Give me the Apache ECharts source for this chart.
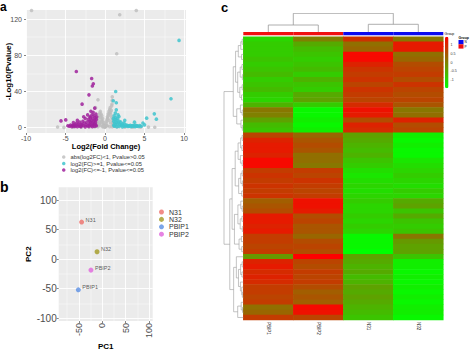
<!DOCTYPE html>
<html><head><meta charset="utf-8">
<script src="https://cdn.jsdelivr.net/npm/echarts@6/dist/echarts.min.js"></script>
<style>html,body{margin:0;padding:0;background:#fff}#c{width:474px;height:351px}</style>
</head><body><div id="c"></div>
<script>
// ---------- Panel a: volcano ----------
const volcanoXTicks = [-10, -5, 0, 5, 10];
const volcanoXMinor = [-7.5, -2.5, 2.5, 7.5];
const volcanoYTicks = [0, 40, 80, 120];
const volcanoYMinor = [20, 60, 100];
const volcanoLegend = ['abs(log2FC)<1, Pvalue>0.05', 'log2(FC)>=1, Pvalue<=0.05', 'log2(FC)<=-1, Pvalue<=0.05'];
const volcanoNonSig = [[-1.0,2],[-0.95,5],[-0.9,8],[-0.85,3],[-0.8,11],[-0.75,14],[-0.7,6],[-0.65,16],[-0.6,18],[-0.55,12],[-0.5,15],[-0.45,9],[-0.4,13],[-0.35,7],[-0.3,10],[-0.25,4],[-0.2,6],[-0.15,3],[-0.1,2],[-0.05,1],
 [0.05,1],[0.1,3],[0.15,5],[0.2,7],[0.25,9],[0.3,12],[0.35,10],[0.4,15],[0.45,13],[0.5,18],[0.55,16],[0.6,20],[0.65,22],[0.7,17],[0.75,14],[0.8,19],[0.85,11],[0.9,8],[0.95,5],[1.0,3],
 [0.88,26],[0.9,30],[0.92,34],[0.85,24],[-0.9,1],[-0.6,2],[-0.3,1],[0,0.5],[0.3,2],[0.6,1],[0.9,1],[-0.7,4],[0.7,5],[-0.5,6],[0.5,8],[-0.2,1],[0.2,2],
 [-0.89,30.7],[-1.2,22],[1.1,1.5],[-1.3,0.8],[1.5,0.6],[-2,0.5],[2.5,0.4],[-3,0.3],[3.5,0.5],[-4,0.4],[4.5,0.3],[-5.2,0.2],[5.5,0.5],[-6,0.6],[6.3,0.4],
 [-9.3,129.5],[3.96,129.5],[1.86,124.8],[1.48,81.6]];
const volcanoUp = [[9.37,96.4],[8.35,31.8],[1.35,39.9],[1.05,29.6],[1.43,27.4],[1.43,19.6],[6.24,15.2],[6.5,9.3],[5.27,10.4],[1.77,12.2],[3.73,6],
 [1.05,10],[1.1,7],[1.15,13],[1.2,5],[1.25,9],[1.3,3],[1.35,11],[1.4,6],[1.5,8],[1.55,4],[1.6,10],[1.7,5],[1.8,7],[1.9,3],[2.0,6],[2.1,2.5],[2.2,4],[2.3,2],[2.4,5],[2.5,1.5],[2.6,3],[2.7,1.8],[2.8,2.4],[2.9,1.2],[3.0,2],[3.1,1.6],[3.2,2.6],[3.3,1],[3.4,1.9],[3.5,2.3],[3.6,1.4],[3.7,2.1],[3.8,1.1],[3.9,2.5],[4.0,1.6],[4.1,1.9],[4.25,1.2],[4.4,2.2],[4.6,1.5],[1.2,1.5],[1.5,1],[1.8,1.3],[2.2,0.8],[1.1,2.5],[1.65,14],[1.3,16],[2.5,8],[4.8,5],[5.0,3]];
const volcanoDown = [[-3.63,62],[-1.69,54.3],[-1.48,48.4],[-1.6,46],[-2.03,36.2],[-2.9,25.9],[-1.3,21.5],[-1.79,18],[-5.57,7.4],[-4.97,8.5],
 [-1.05,12],[-1.1,9],[-1.15,15],[-1.2,6],[-1.25,11],[-1.3,8],[-1.35,4],[-1.4,13],[-1.45,7],[-1.5,3],[-1.55,10],[-1.6,5],[-1.65,14],[-1.7,2],[-1.75,8],[-1.8,6],[-1.85,11],[-1.9,3],[-1.95,7],[-2.0,4],[-2.1,9],[-2.2,2],[-2.3,6],[-2.4,3],[-2.5,10],[-2.6,5],[-2.7,2],[-2.8,7],[-2.9,3],[-3.0,4],[-3.1,1.5],[-3.2,6],[-3.3,2],[-3.4,3.5],[-3.5,1],[-3.6,5],[-3.7,2.5],[-3.8,1.2],[-3.9,3],[-4.0,1.8],[-4.1,2.2],[-4.2,1],[-4.35,2.8],[-4.5,1.5],[-4.7,2],[-1.1,2],[-1.3,1.5],[-1.6,1],[-2.05,1.2],[-2.5,0.8],[-3.05,0.9],[-1.2,3.5],[-1.9,12],[-2.2,14],[-1.5,17],[-3.5,8],[-2.7,12],[-4.0,5.5]];

// ---------- Panel b: PCA ----------
const pcaSamples = ['N31', 'N32', 'PBIP1', 'PBIP2'];
const pcaPC1 = [-44, -11, -51, -24];
const pcaPC2 = [63, 12.6, -52, -18.5];
const pcaColors = ['#EE6F6A', '#A39A22', '#5A8FE3', '#E064DC'];
const pcaXTicks = [-50, 0, 50, 100];
const pcaXMinor = [-75, -25, 25, 75];
const pcaYTicks = [-100, -50, 0, 50, 100];
const pcaYMinor = [-75, -25, 25, 75];

// ---------- Panel c: heatmap ----------
const heatSamples = ['PBIP1', 'PBIP2', 'N31', 'N32'];
const heatGroups = ['P', 'P', 'N', 'N'];
const heatPBIP1 = [-1.0,-0.9,-0.9,-0.9,-0.8,-0.9,-0.8,-0.7,-0.9,-0.8,-0.7,-0.9,-1.0,-0.6,0.1,0.0,-0.4,-0.7,-0.8,
 0.7,1.1,1.2,1.2,1.1,1.4,1.4,0.8,0.9,0.8,0.9,0.8,0.9,0.4,0.5,0.6,1.2,1.2,1.1,1.2,0.8,0.8,0.7,0.8,-0.3,1.1,1.2,1.0,1.1,1.0,0.8,0.8,0.7,0.8,0.2,0.3,0.8];
const heatPBIP2 = [0.0,-0.5,-0.7,-0.8,-0.9,-0.8,-0.7,-0.9,-0.6,-0.8,-0.9,-0.5,-0.4,-0.9,-1.4,-1.4,-1.3,-1.4,-1.3,
 0.3,0.5,0.6,0.5,0.2,0.2,0.1,0.8,0.7,0.9,0.8,0.7,0.8,1.3,1.3,1.2,0.6,0.7,0.5,0.5,0.3,0.6,0.7,0.6,1.5,0.7,0.6,0.8,0.7,0.8,0.6,0.4,0.5,0.4,1.4,1.3,0.7];
const heatN31 = [0.9,0.2,0.3,1.4,1.4,1.1,0.9,0.8,0.9,0.7,0.9,0.8,0.7,1.0,1.3,1.2,0.6,1.1,1.0,
 -0.4,-0.5,-0.6,-0.7,-0.6,-0.8,-0.9,-1.1,-1.2,-1.1,-1.0,-1.1,-1.0,-0.9,-1.0,-1.0,-0.9,-1.0,-0.9,-1.0,-1.4,-1.4,-1.4,-1.5,-0.4,-0.5,-0.6,-0.5,-0.7,-0.6,-0.4,-0.5,-0.4,-0.5,-0.6,-0.7,-0.8];
const heatN32 = [0.1,1.2,1.2,0.2,0.3,0.6,0.7,0.8,0.6,0.9,0.7,0.6,0.7,0.5,0.1,0.2,1.1,0.6,0.7,
 -1.3,-1.4,-1.3,-1.4,-1.4,-1.2,-1.1,-1.0,-0.9,-1.0,-1.1,-0.9,-1.0,-0.5,-0.4,-0.8,-0.5,-0.8,-0.9,-0.8,0.1,-0.3,-0.4,-0.4,-0.8,-1.3,-1.3,-1.4,-1.3,-1.4,-1.3,-1.4,-1.3,-1.4,-1.3,-1.3,-1.4];
// dendrograms: [mergeHeight, left, right]; leaves are indices
const colTree = [18.7, [7, 0, 1], [7.7, 2, 3]];
const rowTreeTop = [5.2,
  [4.0,
    [2.6, [1.3, [0.6, 0, 1], 2], [0.9, 3, 4]],
    [2.9, [1.6, [0.7, 5, 6], [0.5, 7, 8]], [1.8, [0.6, 9, 10], [0.9, 11, 12]]]],
  [3.4, [1.5, 13, [0.6, 14, 15]], [1.2, 16, [0.5, 17, 18]]]];
const rowTreeBottom = [7.0,
  [5.8,
    [4.2, [2.7, [1.4, [0.6, 19, 20], [0.7, 21, 22]], [1.5, 23, [0.6, 24, 25]]], [2.4, [1.3, [0.6, 26, 27], [0.5, 28, 29]], [0.8, 30, 31]]],
    [4.6, [2.8, [1.3, 32, [0.6, 33, 34]], [1.6, [0.7, 35, 36], [0.5, 37, 38]]], [2.2, [1.0, 39, 40], [0.8, 41, 42]]]],
  [5.0, [3.6, 43, [2.5, [1.4, [0.6, 44, 45], [0.7, 46, 47]], [1.5, 48, [0.8, 49, [0.5, 50, 51]]]]], [2.9, [1.1, 52, [0.4, 53, 54]], 55]]];
const rowTree = [10, rowTreeTop, rowTreeBottom];
const colorbarTicks = [1, 0.5, 0, -0.5, -1];
const colorMin = -1.5, colorMax = 1.5;

// ---------- build ----------
const heatCols = [heatPBIP1, heatPBIP2, heatN31, heatN32];
const nRows = heatPBIP1.length;
const heatData = [];
for (let r = 0; r < nRows; r++) for (let c = 0; c < 4; c++) heatData.push([c, r, heatCols[c][r]]);

function walk(node, out) {
  if (typeof node === 'number') return { p: node + 0.5, h: 0 };
  const A = walk(node[1], out), B = walk(node[2], out);
  out.push([A, B, node[0]]);
  return { p: (A.p + B.p) / 2, h: node[0] };
}
const colSeg = []; walk(colTree, colSeg);
const rowSeg = []; walk(rowTree, rowSeg);
const colLines = colSeg.map(([A, B, h]) => ({ coords: [[A.p, A.h], [A.p, h], [B.p, h], [B.p, B.h]] }));
const rowLines = rowSeg.map(([A, B, h]) => ({ coords: [[A.h, A.p], [h, A.p], [h, B.p], [B.h, B.p]] }));

const FONT = '"Liberation Sans", Arial, sans-serif';
const gridLine = (w) => ({ show: true, lineStyle: { color: '#FFFFFF', width: w } });
function mainAxis(gi, min, max, ticks, extra) {
  return Object.assign({
    type: 'value', gridIndex: gi, min, max,
    axisLine: { show: false, onZero: false },
    axisTick: { show: true, customValues: ticks, length: 2, lineStyle: { color: '#333', width: 0.6 } },
    axisLabel: { customValues: ticks, color: '#4D4D4D', fontSize: 7, margin: 2, hideOverlap: false },
    splitLine: gridLine(0.9)
  }, extra || {});
}
function minorAxis(gi, min, max, ticks) {
  return {
    type: 'value', gridIndex: gi, min, max,
    axisLine: { show: false, onZero: false },
    axisTick: { show: false, customValues: ticks },
    axisLabel: { show: false, customValues: ticks },
    splitLine: gridLine(0.45)
  };
}
const hidden = (o) => Object.assign({ show: false }, o);

const series = [
  { name: volcanoLegend[0], type: 'scatter', xAxisIndex: 0, yAxisIndex: 0, data: volcanoNonSig, symbolSize: 3.6, itemStyle: { color: '#BDBDBD' } },
  { name: volcanoLegend[1], type: 'scatter', xAxisIndex: 0, yAxisIndex: 0, data: volcanoUp, symbolSize: 3.6, itemStyle: { color: '#3FC4CE', opacity: 0.85 } },
  { name: volcanoLegend[2], type: 'scatter', xAxisIndex: 0, yAxisIndex: 0, data: volcanoDown, symbolSize: 3.6, itemStyle: { color: '#A0229C', opacity: 0.85 } }
];
pcaSamples.forEach((s, i) => series.push({
  name: s, type: 'scatter', xAxisIndex: 2, yAxisIndex: 2, symbolSize: 5,
  data: [[pcaPC1[i], pcaPC2[i]]], itemStyle: { color: pcaColors[i] },
  label: { show: true, position: 'right', distance: 1.5, offset: [0, -2.5], formatter: s, fontSize: 5.5, color: '#333' }
}));
series.push({ type: 'heatmap', xAxisIndex: 4, yAxisIndex: 4, data: heatData, itemStyle: { borderWidth: 0 }, emphasis: { disabled: true } });
const heatSeriesIndex = series.length - 1;
series.push({ type: 'bar', xAxisIndex: 5, yAxisIndex: 5, barWidth: '100%', silent: true,
  data: heatGroups.map(g => ({ value: 1, itemStyle: { color: g === 'N' ? '#0A0AF0' : '#F01010' } })) });
series.push({ type: 'lines', coordinateSystem: 'cartesian2d', xAxisIndex: 6, yAxisIndex: 6, polyline: true, silent: true,
  data: colLines, lineStyle: { color: '#9a9a9a', width: 0.8, opacity: 1 } });
series.push({ type: 'lines', coordinateSystem: 'cartesian2d', xAxisIndex: 7, yAxisIndex: 7, polyline: true, silent: true,
  data: rowLines, lineStyle: { color: '#9a9a9a', width: 0.6, opacity: 1 } });

const cbTop = 36.7, cbH = 51.5, cbX = 445;
const graphics = [
  { type: 'text', left: 0, top: 1, style: { text: 'a', font: 'bold 12px ' + FONT, fill: '#000' } },
  { type: 'text', left: 0, top: 180, style: { text: 'b', font: 'bold 14px ' + FONT, fill: '#000' } },
  { type: 'text', left: 221, top: 1, style: { text: 'c', font: 'bold 13px ' + FONT, fill: '#000' } },
  { type: 'text', x: 8, y: 71.5, rotation: Math.PI / 2,
    style: { text: '-Log10(Pvalue)', font: 'bold 8px ' + FONT, fill: '#000', align: 'center', verticalAlign: 'middle' } },
  { type: 'text', left: 444.5, top: 31.8, style: { text: 'Group', font: '3.5px ' + FONT, fill: '#000' } },
  { type: 'text', left: 458.5, top: 36.3, style: { text: 'Group', font: 'bold 3.5px ' + FONT, fill: '#000' } },
  { type: 'rect', shape: { x: 458.5, y: 40, width: 5, height: 4.3 }, style: { fill: '#0A0AF0' } },
  { type: 'rect', shape: { x: 458.5, y: 44.3, width: 5, height: 4.3 }, style: { fill: '#F01010' } },
  { type: 'text', left: 464.5, top: 40.6, style: { text: 'N', font: '3.2px ' + FONT, fill: '#000' } },
  { type: 'text', left: 464.5, top: 44.9, style: { text: 'P', font: '3.2px ' + FONT, fill: '#000' } }
];
colorbarTicks.forEach(v => graphics.push({ type: 'text', left: cbX + 5.5,
  top: cbTop + (colorMax - v) / (colorMax - colorMin) * cbH - 1.8,
  style: { text: String(v), font: '3.6px ' + FONT, fill: '#333' } }));

const option = {
  animation: false,
  textStyle: { fontFamily: FONT },
  grid: [
    { left: 26, top: 10, width: 160, height: 123, show: true, backgroundColor: '#EBEBEB', borderWidth: 0 },
    { left: 58.7, top: 187.3, width: 94, height: 138.7, show: true, backgroundColor: '#EBEBEB', borderWidth: 0 },
    { left: 243.3, top: 36.7, width: 200, height: 283.3 },
    { left: 243.3, top: 32, width: 200, height: 3.3 },
    { left: 243.3, top: 13.3, width: 200, height: 18.7 },
    { left: 224, top: 36.7, width: 19.3, height: 283.3 },
    { left: 26, top: 10, width: 160, height: 123 }
  ],
  xAxis: [
    mainAxis(0, -10, 10.25, volcanoXTicks, { name: 'Log2(Fold Change)', nameLocation: 'middle', nameGap: 9,
      nameTextStyle: { fontWeight: 'bold', fontSize: 7.5, color: '#000', verticalAlign: 'top' } }),
    minorAxis(0, -10, 10.25, volcanoXMinor),
    mainAxis(1, -93, 108, pcaXTicks, { name: 'PC1', nameLocation: 'middle', nameGap: 17,
      nameTextStyle: { fontWeight: 'bold', fontSize: 8, color: '#000', verticalAlign: 'top' },
      axisLabel: { customValues: pcaXTicks, color: '#4D4D4D', fontSize: 9, margin: 2, rotate: 90 } }),
    minorAxis(1, -93, 108, pcaXMinor),
    { type: 'category', gridIndex: 2, data: heatSamples, axisLine: { show: false }, axisTick: { show: false },
      axisLabel: { rotate: -90, fontSize: 4.5, color: '#111', margin: 2 }, splitLine: { show: false } },
    hidden({ type: 'category', gridIndex: 3, data: heatSamples }),
    hidden({ type: 'value', gridIndex: 4, min: 0, max: 4 }),
    hidden({ type: 'value', gridIndex: 5, min: 0, max: 10, inverse: true }),
    hidden({ type: 'value', gridIndex: 6, min: -10, max: 10.25 })
  ],
  yAxis: [
    mainAxis(0, -6, 130, volcanoYTicks, { axisLabel: { show: false, customValues: volcanoYTicks } }),
    minorAxis(0, -6, 130, volcanoYMinor),
    mainAxis(1, -105, 122, pcaYTicks, { name: 'PC2', nameLocation: 'middle', nameGap: 24,
      nameTextStyle: { fontWeight: 'bold', fontSize: 8, color: '#000' },
      axisLabel: { customValues: pcaYTicks, color: '#4D4D4D', fontSize: 10, margin: 2 } }),
    minorAxis(1, -105, 122, pcaYMinor),
    hidden({ type: 'category', gridIndex: 2, inverse: true, data: heatPBIP1.map((_, i) => 'g' + i) }),
    hidden({ type: 'value', gridIndex: 3, min: 0, max: 1 }),
    hidden({ type: 'value', gridIndex: 4, min: 0, max: 18.7 }),
    hidden({ type: 'value', gridIndex: 5, min: 0, max: nRows, inverse: true }),
    { type: 'value', gridIndex: 6, min: -6, max: 130, position: 'left',
      axisLine: { show: false, onZero: false }, axisTick: { show: false, customValues: volcanoYTicks },
      axisLabel: { customValues: volcanoYTicks, color: '#4D4D4D', fontSize: 7, margin: 4 }, splitLine: { show: false } }
  ],
  legend: [
    { data: volcanoLegend, orient: 'vertical', left: 62, top: 154, padding: 0, itemGap: 0.5, itemWidth: 3.5, itemHeight: 3.5,
      icon: 'circle', selectedMode: false, textStyle: { fontSize: 5.8, lineHeight: 6, color: '#333' } },
    { data: pcaSamples, orient: 'vertical', left: 159, top: 208.5, padding: 0, itemGap: 0.4, itemWidth: 5, itemHeight: 5,
      icon: 'circle', selectedMode: false, textStyle: { fontSize: 7, lineHeight: 5.6, color: '#333' } }
  ],
  visualMap: {
    type: 'continuous', seriesIndex: heatSeriesIndex, min: colorMin, max: colorMax, calculable: false,
    inRange: { color: ['#00FF00', '#FF0000'] }, left: cbX, top: cbTop, itemWidth: 3.5, itemHeight: cbH,
    padding: 0, text: null, showLabel: false, orient: 'vertical'
  },
  graphic: graphics,
  series
};
const chart = echarts.init(document.getElementById('c'), null, { renderer: 'svg' });
chart.setOption(option);
</script></body></html>
